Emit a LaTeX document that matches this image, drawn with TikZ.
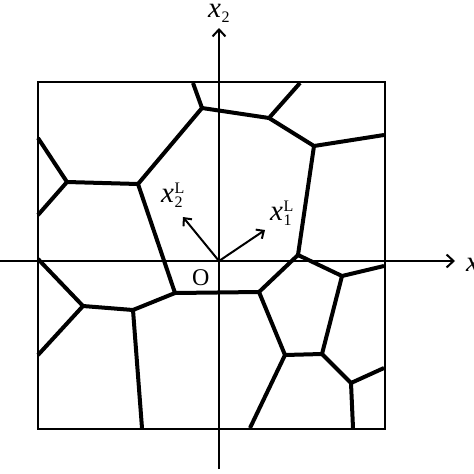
\documentclass[tikz,border=0pt]{standalone}
\usepackage{fontspec}
\setmainfont{Liberation Serif}
\usetikzlibrary{arrows.meta}
\newcommand{\scr}[1]{{\fontsize{16}{16}\selectfont #1}}
\newcommand{\xsub}[1]{\textit{x}\kern0.5pt\raisebox{-5pt}{\scr{#1}}}
\newcommand{\xsubL}[1]{\textit{x}\kern0.5pt\makebox[0pt][l]{\raisebox{8.5pt}{\scr{L}}}\raisebox{-5.5pt}{\scr{#1}}}
\tikzset{
  boxline/.style={line width=2pt},
  grain/.style={line width=4pt, line join=round},
  axis/.style={line width=2pt, -{Straight Barb[length=7pt,width=13pt,line width=2pt]}},
  lvec/.style={line width=2pt, -{Straight Barb[length=6pt,width=11pt,line width=2pt]}},
  lab/.style={font=\fontsize{29}{29}\selectfont, inner sep=0pt, anchor=base west},
  olab/.style={font=\fontsize{24}{24}\selectfont, inner sep=0pt, anchor=base west}
}
\begin{document}
\begin{tikzpicture}[x=1pt,y=-1pt]
\useasboundingbox (0,0) rectangle (474,474);
\clip (0,0) rectangle (474,474);
\draw[boxline] (37.5,82) rectangle (384.5,429);
% grain junctions
\coordinate (A) at (202,108);
\coordinate (B) at (269,118);
\coordinate (C) at (314,146);
\coordinate (D) at (138,184);
\coordinate (E) at (67,182);
\coordinate (F) at (175,293);
\coordinate (G) at (298,255);
\coordinate (H) at (342,276);
\coordinate (I) at (259,292);
\coordinate (J) at (285,355);
\coordinate (K) at (322,354);
\coordinate (L) at (351,383);
\coordinate (M) at (133,310);
\coordinate (N) at (83,306);
% boundary end points
\coordinate (t1) at (193,83);
\coordinate (t2) at (300,83);
\coordinate (r1) at (384,135);
\coordinate (r2) at (384,266);
\coordinate (r3) at (384,368);
\coordinate (l1) at (38,138);
\coordinate (l2) at (38,215);
\coordinate (l3) at (38,259);
\coordinate (l4) at (38,355);
\coordinate (b1) at (142,428);
\coordinate (b2) at (250,428);
\coordinate (b3) at (353,428);
\draw[grain] (t1) -- (A) -- (B) -- (t2);
\draw[grain] (B) -- (C) -- (r1);
\draw[grain] (A) -- (D) -- (E) -- (l1);
\draw[grain] (E) -- (l2);
\draw[grain] (D) -- (F) -- (I) -- (G) -- (C);
\draw[grain] (G) -- (H) -- (r2);
\draw[grain] (I) -- (J) -- (K) -- (H);
\draw[grain] (J) -- (b2);
\draw[grain] (K) -- (L) -- (r3);
\draw[grain] (L) -- (b3);
\draw[grain] (F) -- (M) -- (N) -- (l3);
\draw[grain] (N) -- (l4);
\draw[grain] (M) -- (b1);
% axes
\coordinate (O) at (219,261);
\coordinate (ax2top) at (219,28);
\coordinate (ax2bot) at (219,469);
\coordinate (ax1left) at (0,261);
\coordinate (ax1right) at (455,261);
\draw[axis] (ax2bot) -- (ax2top);
\draw[axis] (ax1left) -- (ax1right);
% local vectors
\coordinate (v2) at (183,217);
\coordinate (v1) at (265,230);
\draw[lvec] (O) -- (v2);
\draw[lvec] (O) -- (v1);
% labels
\node[lab] (lx2) at (208,17) {\xsub{2}};
\node[lab] (lx1) at (466,271) {\xsub{1}};
\node[lab] (lx2L) at (161,202) {\xsubL{2}};
\node[lab] (lx1L) at (270,220) {\xsubL{1}};
\node[olab] (lO) at (192,285) {O};
\end{tikzpicture}
\end{document}
